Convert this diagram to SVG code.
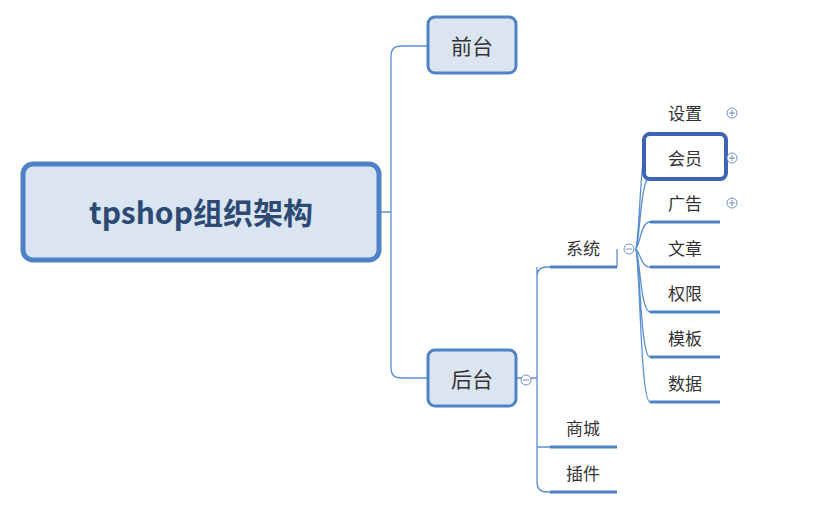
<svg xmlns="http://www.w3.org/2000/svg" width="816" height="519" viewBox="0 0 816 519">
<style>
.t{font-family:"Noto Sans CJK SC","Liberation Sans",sans-serif;fill:#333;font-size:17px;text-anchor:middle}
.box{fill:#dbe5f1;stroke:#4f81c7;stroke-width:3}
.c{fill:none;stroke:#5b8fd0;stroke-width:1.3}
.u{stroke:#4f81c7;stroke-width:3}
.ic{fill:#fff;stroke:#6f8fc0;stroke-width:1}
</style>
<rect width="816" height="519" fill="#fff"/>
<g id="connectors" class="c">
<path d="M380 212H391M391 212V56Q391 46 401 46H428M391 212V368Q391 378 401 378H428"/>
<path d="M516 378H522M531 378H537M537 267V482Q537 492 547 492H550M537 447H550M550 267H547Q537 267 537 277"/>
<path d="M617 267V249"/>
<path d="M635 249C640 249 640 177 650 177M635 249C640 249 640 222 650 222M635 249C640 249 640 267 650 267M635 249C640 249 640 312 650 312M635 249C640 249 640 357 650 357M635 249C640 249 640 402 650 402M635 249C640 249 640 132 650 132"/>
</g>
<g id="root"><rect class="box" x="23" y="164" width="356" height="96" rx="10" style="stroke-width:5"/><text class="t" x="201" y="224" style="font-size:30px;font-weight:bold;fill:#2c4a73">tpshop组织架构</text></g>
<g id="qiantai"><rect class="box" x="428" y="17" width="88" height="56" rx="7"/><text class="t" x="472" y="54" style="font-size:21px">前台</text></g>
<g id="houtai"><rect class="box" x="428" y="350" width="88" height="56" rx="7"/><text class="t" x="472" y="387" style="font-size:21px">后台</text><circle class="ic" cx="526" cy="380" r="5"/><path d="M523 380h6" stroke="#6f8fc0"/></g>
<g id="xitong"><line class="u" x1="550" y1="267" x2="617" y2="267"/><text class="t" x="583" y="255">系统</text><circle class="ic" cx="629" cy="249" r="5"/><path d="M626 249h6" stroke="#6f8fc0"/></g>
<g id="shangcheng"><line class="u" x1="550" y1="447" x2="617" y2="447"/><text class="t" x="583" y="435">商城</text></g>
<g id="chajian"><line class="u" x1="550" y1="492" x2="617" y2="492"/><text class="t" x="583" y="480">插件</text></g>
<g id="shezhi"><text class="t" x="685" y="120">设置</text><circle class="ic" cx="732" cy="113" r="5"/><path d="M729 113h6M732 110v6" stroke="#6f8fc0"/></g>
<g id="huiyuan"><rect x="644" y="134" width="82" height="45" rx="6" fill="#fff" stroke="#3b64b5" stroke-width="4"/><text class="t" x="685" y="165">会员</text><circle class="ic" cx="732" cy="158" r="5"/><path d="M729 158h6M732 155v6" stroke="#6f8fc0"/></g>
<g id="guanggao"><line class="u" x1="650" y1="222" x2="720" y2="222"/><text class="t" x="685" y="210">广告</text><circle class="ic" cx="732" cy="203" r="5"/><path d="M729 203h6M732 200v6" stroke="#6f8fc0"/></g>
<g id="wenzhang"><line class="u" x1="650" y1="267" x2="720" y2="267"/><text class="t" x="685" y="255">文章</text></g>
<g id="quanxian"><line class="u" x1="650" y1="312" x2="720" y2="312"/><text class="t" x="685" y="300">权限</text></g>
<g id="moban"><line class="u" x1="650" y1="357" x2="720" y2="357"/><text class="t" x="685" y="345">模板</text></g>
<g id="shuju"><line class="u" x1="650" y1="402" x2="720" y2="402"/><text class="t" x="685" y="390">数据</text></g>
</svg>
